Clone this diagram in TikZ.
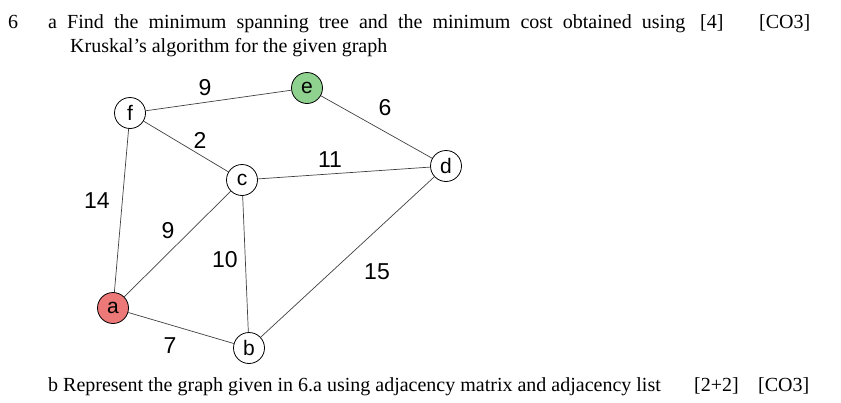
\documentclass[tikz,border=0pt]{standalone}
\usepackage{fontspec}
\setmainfont{Liberation Serif}
\newfontfamily\arial{Liberation Sans}
\begin{document}
\begin{tikzpicture}[x=1pt,y=-1pt,
  vert/.style={circle,draw,line width=0.8pt,minimum size=31pt,inner sep=0pt,font=\arial\fontsize{21}{21}\selectfont},
  edge/.style={draw=black!75,line width=0.7pt},
  wl/.style={font=\arial\fontsize{23}{23}\selectfont},
  txt/.style={font=\fontsize{20}{22}\selectfont,anchor=base west,inner sep=0pt}]
\useasboundingbox (0,0) rectangle (841,402);
\node[txt] (n6) at (8,28) {6};
\node[txt] (l1) at (48,28) {\makebox[637pt][s]{a Find the minimum spanning tree and the minimum cost obtained using}};
\node[txt] (m4) at (700,28) {[4]};
\node[txt] (co1) at (759,28) {[CO3]};
\node[txt] (l2) at (70,52) {Kruskal’s algorithm for the given graph};
\node[txt] (lb) at (48,391) {b Represent the graph given in 6.a using adjacency matrix and adjacency list};
\node[txt] (m22) at (694,391) {[2+2]};
\node[txt] (co2) at (758,391) {[CO3]};

\node[vert] (f) at (130,113) {f};
\node[vert,fill={rgb,255:red,143;green,210;blue,143}] (e) at (307,88) {e};
\node[vert] (c) at (242,180) {c};
\node[vert] (d) at (446,166) {d};
\node[vert,fill={rgb,255:red,236;green,120;blue,120}] (a) at (113,308) {a};
\node[vert] (b) at (249,348) {b};
\draw[edge] (f)--(e);
\draw[edge] (e)--(d);
\draw[edge] (f)--(c);
\draw[edge] (c)--(d);
\draw[edge] (f)--(a);
\draw[edge] (a)--(c);
\draw[edge] (c)--(b);
\draw[edge] (b)--(d);
\draw[edge] (a)--(b);
\node[wl] (w1) at (205,88) {9};
\node[wl] (w2) at (385,108) {6};
\node[wl] (w3) at (200,140) {2};
\node[wl] (w4) at (330,160) {11};
\node[wl] (w5) at (97,201) {14};
\node[wl] (w6) at (168,231) {9};
\node[wl] (w7) at (225,260) {10};
\node[wl] (w8) at (377,272) {15};
\node[wl] (w9) at (170,346) {7};
\end{tikzpicture}
\end{document}
